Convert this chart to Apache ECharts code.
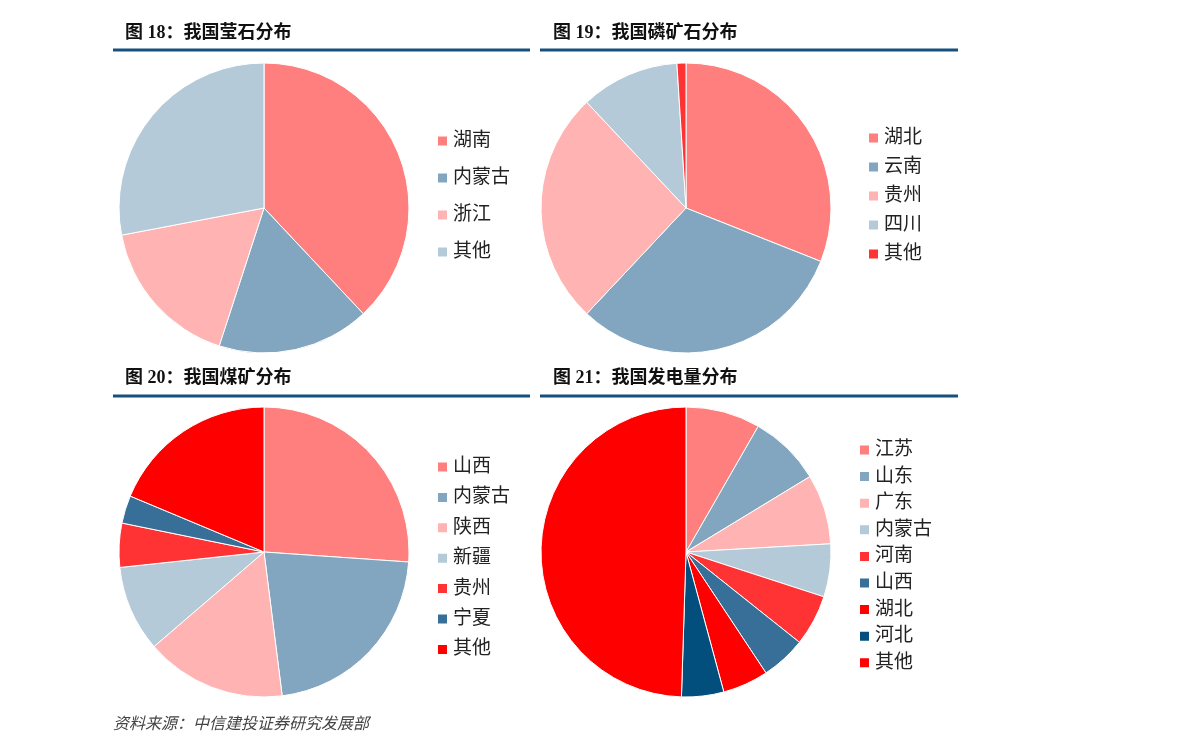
<!DOCTYPE html>
<html>
<head>
<meta charset="utf-8">
<title>我国矿产与发电量分布</title>
<script src="https://cdn.jsdelivr.net/npm/echarts@6/dist/echarts.min.js"></script>
<style>
  html, body { margin: 0; padding: 0; background: #fff; }
  #main { width: 1191px; height: 755px; }
</style>
</head>
<body>
<div id="main"></div>
<script>
// 图18 莹石
const fluoriteNames = ['湖南', '内蒙古', '浙江', '其他']
const fluoriteValues = [38, 17, 17, 28]
// 图19 磷矿石
const phosphateNames = ['湖北', '云南', '贵州', '四川', '其他']
const phosphateValues = [31, 31, 26, 11, 1]
// 图20 煤矿
const coalNames = ['山西', '内蒙古', '陕西', '新疆', '贵州', '宁夏', '其他']
const coalValues = [26.1, 21.9, 15.7, 9.6, 4.9, 3.1, 18.7]
// 图21 发电量
const powerNames = ['江苏', '山东', '广东', '内蒙古', '河南', '山西', '湖北', '河北', '其他']
const powerValues = [8.3, 8.0, 7.8, 5.9, 5.7, 5.0, 5.1, 4.7, 49.5]

const palette = ['#FF7F7F', '#82A6C0', '#FFB3B3', '#B4CAD8', '#FF3333', '#376F98', '#FF0000', '#024E7C', '#FF0000']

const fontCN = '"Liberation Serif", "Noto Sans CJK SC", serif'
const lineColor = '#16507F'

const chart = echarts.init(document.getElementById('main'))

function pieSeries(names, values, center) {
  return {
    type: 'pie',
    center: center,
    radius: 145,
    startAngle: 90,
    clockwise: true,
    animation: false,
    label: { show: false },
    labelLine: { show: false },
    itemStyle: { borderColor: '#fff', borderWidth: 1 },
    emphasis: { scale: false },
    data: names.map((n, i) => ({
      name: n,
      value: values[i],
      itemStyle: { color: palette[i] }
    }))
  }
}

function pieLegend(names, left, top, gap) {
  return {
    orient: 'vertical',
    left: left,
    top: top,
    padding: 0,
    itemWidth: 11,
    itemHeight: 11,
    itemGap: gap,
    icon: 'rect',
    selectedMode: false,
    textStyle: { fontSize: 19, lineHeight: 20, color: '#222', fontFamily: fontCN },
    data: names.map((n, i) => ({ name: n, itemStyle: { color: palette[i] } }))
  }
}

function titleText(text, x, y) {
  return {
    type: 'text',
    left: x,
    top: y,
    style: { text: text, fill: '#111', font: 'bold 18px ' + fontCN }
  }
}

function rule(x1, x2, y) {
  return {
    type: 'line',
    shape: { x1: x1, y1: y, x2: x2, y2: y },
    style: { stroke: lineColor, lineWidth: 3 }
  }
}

chart.setOption({
  backgroundColor: '#fff',
  tooltip: { show: false },
  legend: [
    pieLegend(fluoriteNames, 436, 131, 17),
    pieLegend(phosphateNames, 867, 128, 9),
    pieLegend(coalNames, 436, 457, 10.4),
    pieLegend(powerNames, 858, 440, 6.6)
  ],
  graphic: [
    titleText('图 18：我国莹石分布', 125, 24),
    titleText('图 19：我国磷矿石分布', 553, 24),
    titleText('图 20：我国煤矿分布', 125, 369),
    titleText('图 21：我国发电量分布', 553, 369),
    rule(113, 530, 50),
    rule(540, 958, 50),
    rule(113, 530, 396),
    rule(540, 958, 396),
    {
      type: 'text',
      left: 113,
      top: 717,
      style: { text: '资料来源：中信建投证券研究发展部', font: 'italic 16px ' + fontCN, fill: '#444' }
    }
  ],
  series: [
    pieSeries(fluoriteNames, fluoriteValues, [264, 208]),
    pieSeries(phosphateNames, phosphateValues, [686, 208]),
    pieSeries(coalNames, coalValues, [264, 552]),
    pieSeries(powerNames, powerValues, [686, 552])
  ]
})
</script>
</body>
</html>
